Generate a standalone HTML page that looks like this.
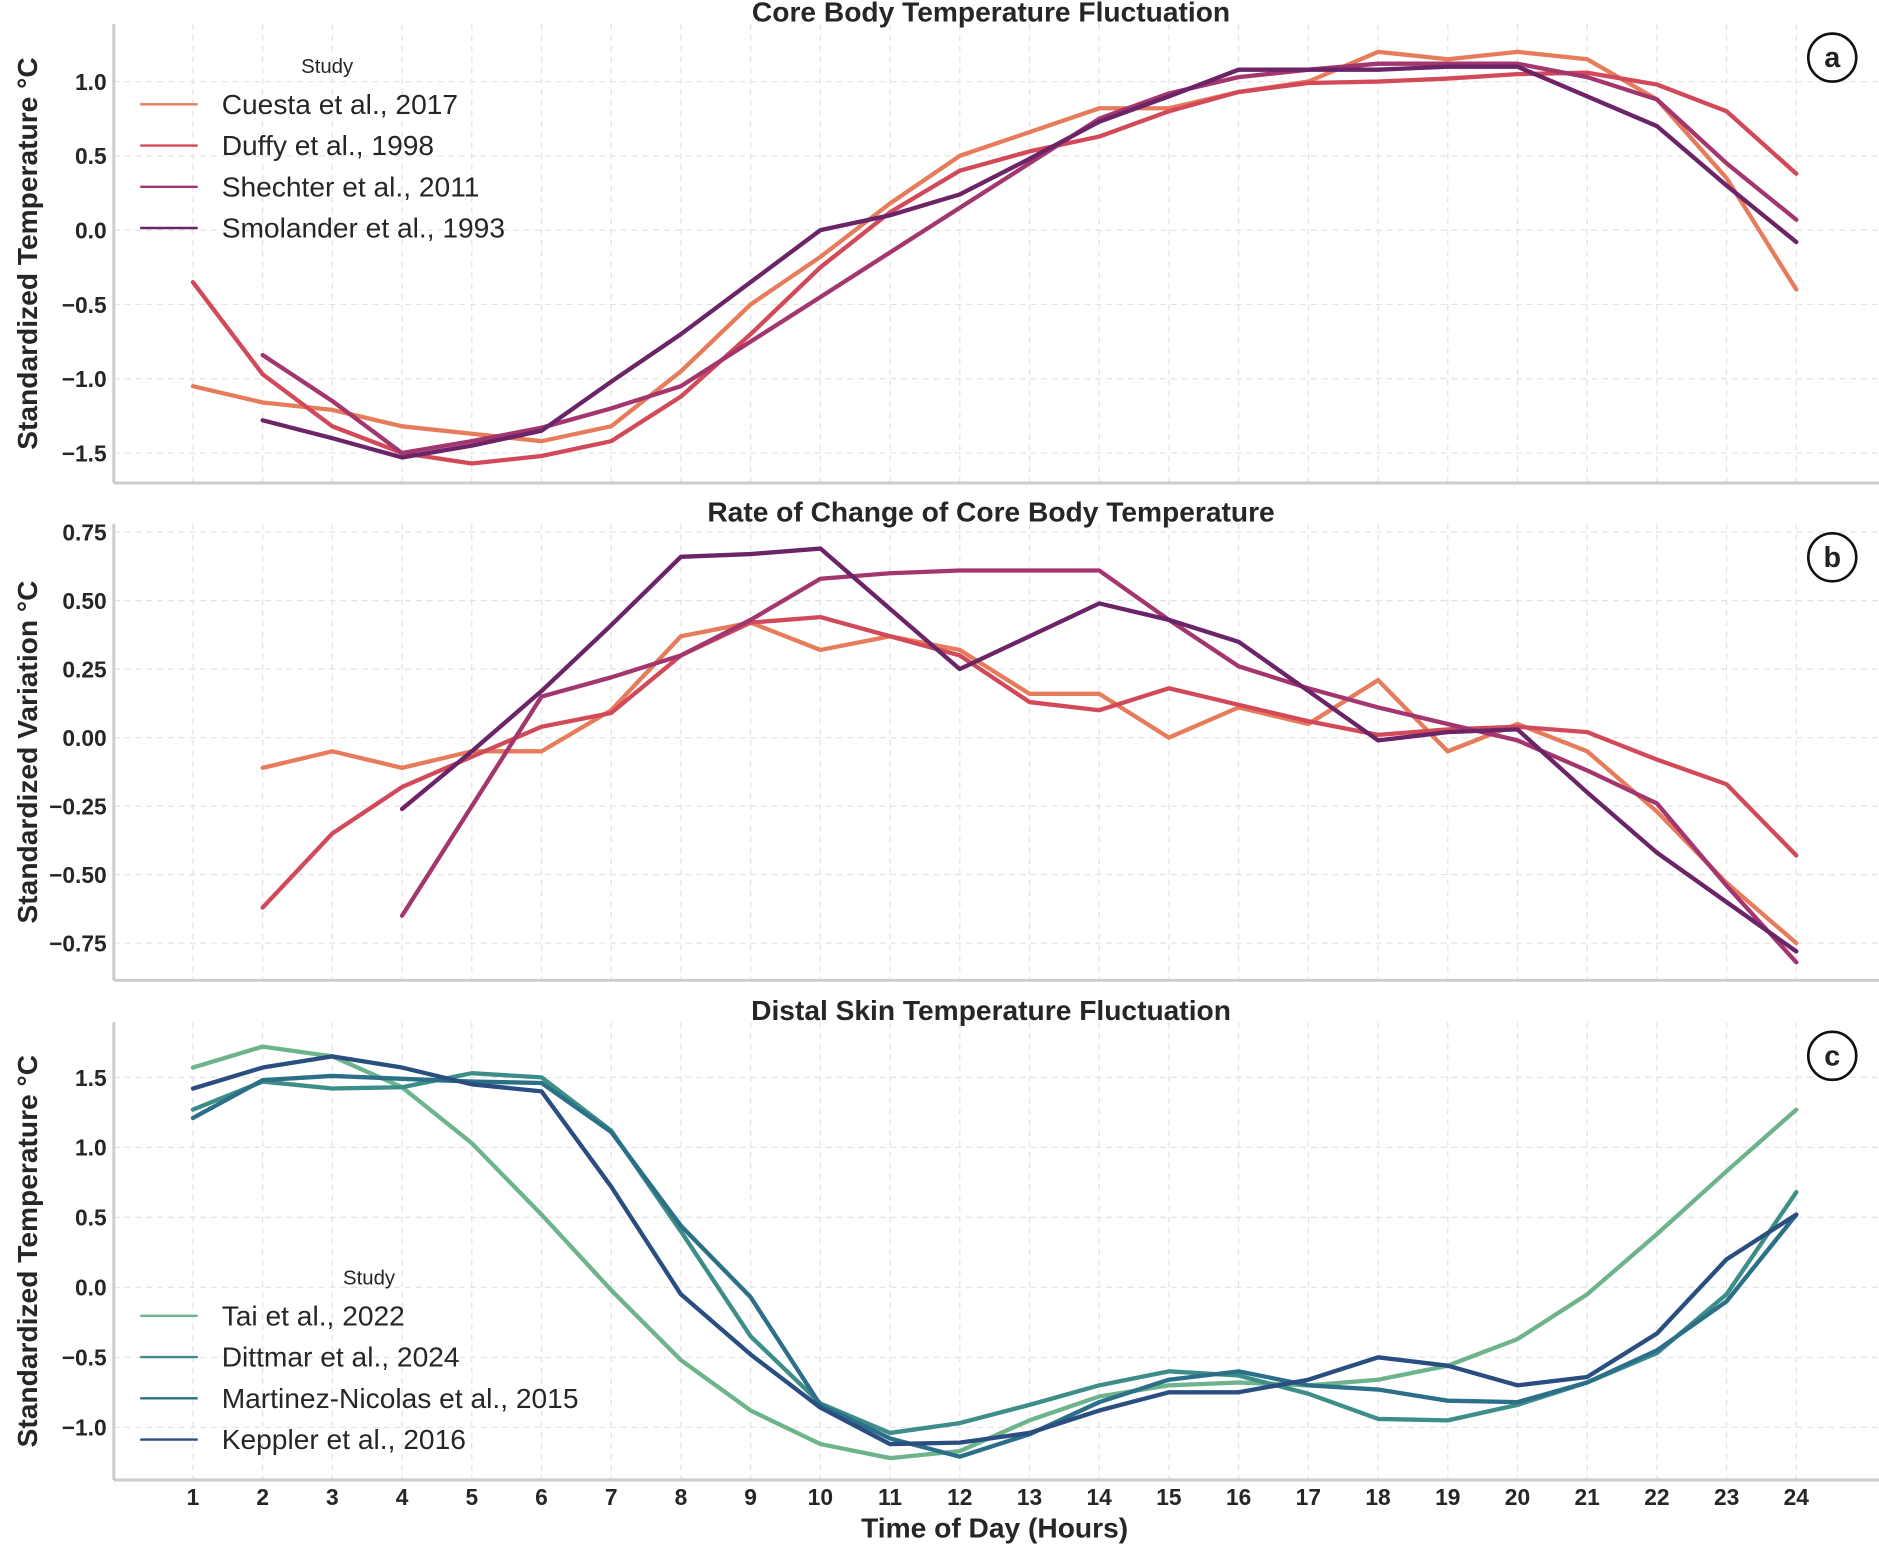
<!DOCTYPE html>
<html><head><meta charset="utf-8"><style>
html,body{margin:0;padding:0;background:#fff;}
svg{display:block;font-family:"Liberation Sans",sans-serif;}
.tick{font-size:19px;font-weight:bold;fill:#262626;}
.ttl{font-size:23.5px;font-weight:bold;fill:#262626;}
.leg{font-size:23.5px;fill:#262626;}
</style></head><body>
<svg id="chart" width="1879" height="1546" viewBox="0 0 1568 1290" xmlns="http://www.w3.org/2000/svg"></svg>
<script>
const hours=[1,2,3,4,5,6,7,8,9,10,11,12,13,14,15,16,17,18,19,20,21,22,23,24];
const N=null;
const aCuesta=[-1.05,-1.16,-1.21,-1.32,-1.37,-1.42,-1.32,-0.95,-0.5,-0.18,0.18,0.5,0.66,0.82,0.82,0.93,1.0,1.2,1.15,1.2,1.15,0.88,0.35,-0.4];
const aDuffy=[-0.35,-0.97,-1.32,-1.5,-1.57,-1.52,-1.42,-1.12,-0.7,-0.25,0.12,0.4,0.53,0.63,0.8,0.93,0.99,1.0,1.02,1.05,1.06,0.98,0.8,0.38];
const aShechter=[N,-0.84,-1.15,-1.5,-1.42,-1.33,-1.2,-1.05,-0.75,-0.45,-0.15,0.15,0.45,0.75,0.92,1.03,1.08,1.12,1.12,1.12,1.03,0.88,0.45,0.07];
const aSmolander=[N,-1.28,-1.4,-1.53,-1.45,-1.35,-1.02,-0.7,-0.35,0.0,0.1,0.24,0.48,0.73,0.9,1.08,1.08,1.08,1.1,1.1,0.9,0.7,0.3,-0.08];
const bCuesta=[N,-0.11,-0.05,-0.11,-0.05,-0.05,0.1,0.37,0.42,0.32,0.37,0.32,0.16,0.16,0.0,0.11,0.05,0.21,-0.05,0.05,-0.05,-0.27,-0.53,-0.75];
const bDuffy=[N,-0.62,-0.35,-0.18,-0.07,0.04,0.09,0.3,0.42,0.44,0.37,0.3,0.13,0.1,0.18,0.12,0.06,0.01,0.03,0.04,0.02,-0.08,-0.17,-0.43];
const bShechter=[N,N,N,-0.65,-0.25,0.15,0.22,0.3,0.43,0.58,0.6,0.61,0.61,0.61,0.43,0.26,0.18,0.11,0.05,-0.01,-0.12,-0.24,-0.54,-0.82];
const bSmolander=[N,N,N,-0.26,-0.05,0.17,0.41,0.66,0.67,0.69,0.47,0.25,0.37,0.49,0.43,0.35,0.17,-0.01,0.02,0.03,-0.2,-0.42,-0.6,-0.78];
const cTai=[1.57,1.72,1.65,1.43,1.03,0.52,-0.02,-0.52,-0.88,-1.12,-1.22,-1.17,-0.95,-0.78,-0.7,-0.68,-0.7,-0.66,-0.56,-0.37,-0.05,0.38,0.83,1.27];
const cDittmar=[1.27,1.47,1.42,1.43,1.53,1.5,1.12,0.4,-0.35,-0.83,-1.04,-0.97,-0.84,-0.7,-0.6,-0.63,-0.76,-0.94,-0.95,-0.84,-0.68,-0.47,-0.05,0.68];
const cMartinez=[1.21,1.48,1.51,1.49,1.47,1.46,1.11,0.44,-0.07,-0.84,-1.08,-1.21,-1.05,-0.82,-0.66,-0.6,-0.7,-0.73,-0.81,-0.82,-0.68,-0.45,-0.1,0.52];
const cKeppler=[1.42,1.57,1.65,1.57,1.45,1.4,0.72,-0.05,-0.48,-0.86,-1.12,-1.11,-1.04,-0.88,-0.75,-0.75,-0.66,-0.5,-0.56,-0.7,-0.64,-0.33,0.2,0.52];
const aTicks=[-1.5,-1.0,-0.5,0.0,0.5,1.0];
const bTicks=[-0.75,-0.5,-0.25,0,0.25,0.5,0.75];
const cTicks=[-1.0,-0.5,0.0,0.5,1.0,1.5];

const svg=document.getElementById('chart');
const NS='http://www.w3.org/2000/svg';
function mk(tag,attrs,parent){const e=document.createElementNS(NS,tag);for(const k in attrs)e.setAttribute(k,attrs[k]);(parent||svg).appendChild(e);return e;}
const X0=95,X1=1568;
function xs(h){return 161+(h-1)*(1499-161)/23;}
function fmt(v,d){return (v<0?'\u2212':'')+Math.abs(v).toFixed(d);}

function panel(cfg){
  const g=mk('g',{});
  
  
  const ys=v=>cfg.y0+(v-cfg.v0)*(cfg.y1-cfg.y0)/(cfg.v1-cfg.v0);
  hours.forEach(h=>{const l=mk('line',{x1:xs(h),x2:xs(h),y1:cfg.top,y2:cfg.bottom,stroke:'#e3e3e3','stroke-width':1,'stroke-dasharray':'5,4'},g);
    });
  cfg.ticks.forEach(v=>{const l=mk('line',{x1:X0,x2:X1,y1:ys(v),y2:ys(v),stroke:'#e3e3e3','stroke-width':1,'stroke-dasharray':'5,4'},g);
    
    const t=mk('text',{x:X0-6,y:ys(v)+7,'text-anchor':'end',class:'tick'},g);t.textContent=fmt(v,cfg.dec);
    });
  const s1=mk('line',{x1:X0,x2:X0,y1:cfg.top,y2:cfg.bottom,stroke:'#cccccc','stroke-width':2.5},g);
  
  const s2=mk('line',{x1:X0,x2:X1,y1:cfg.bottom,y2:cfg.bottom,stroke:'#cccccc','stroke-width':2.5},g);
  
  const tt=mk('text',{x:827,y:cfg.top-2,'text-anchor':'middle',class:'ttl'},g);tt.textContent=cfg.title;
  
  const yl=mk('text',{x:0,y:0,'text-anchor':'middle',class:'ttl',transform:`translate(31,${(cfg.top+cfg.bottom)/2}) rotate(-90)`},g);yl.textContent=cfg.ylabel;
  
  cfg.series.forEach(s=>{
    let d='';let pen=false;
    s.vals.forEach((v,i)=>{if(v===null){pen=false;return;}d+=(pen?'L':'M')+xs(hours[i]).toFixed(1)+','+ys(v).toFixed(1);pen=true;});
    const p=mk('path',{d:d,fill:'none',stroke:s.color,'stroke-width':3.6,'stroke-linejoin':'round','stroke-linecap':'round'},g);
    
  });
  const c=mk('circle',{cx:1529,cy:cfg.top+28,r:20,fill:'#fff',stroke:'#111','stroke-width':2.2},g);
  
  const ct=mk('text',{x:1529,y:cfg.top+36,'text-anchor':'middle',style:'font-size:24px;font-weight:bold;fill:#222'},g);ct.textContent=cfg.letter;
  
  if(cfg.legendY){
    const lg=mk('g',{},g);
    const st=mk('text',{x:cfg.legendTitleX,y:cfg.legendY,'text-anchor':'middle',style:'font-size:17px;fill:#262626'},lg);st.textContent='Study';
    
    cfg.series.forEach((s,i)=>{const yy=cfg.legendY+26+i*34.4;
      const l=mk('line',{x1:117,x2:165,y1:yy,y2:yy,stroke:s.color,'stroke-width':2},lg);
      
      const t=mk('text',{x:185,y:yy+8,class:'leg'},lg);t.textContent=s.label;
      });
  }
  return g;
}
const red={c1:'#e67c5b',c2:'#d24a5a',c3:'#a3366f',c4:'#6a2467'};
panel({name:'panel-a',top:20,bottom:403,v0:1.0,v1:-1.5,y0:68,y1:378,ticks:aTicks,dec:1,title:'Core Body Temperature Fluctuation',ylabel:'Standardized Temperature °C',letter:'a',legendY:61,legendTitleX:273,
 series:[{id:'cuesta-line',label:'Cuesta et al., 2017',vals:aCuesta,color:red.c1},{id:'duffy-line',label:'Duffy et al., 1998',vals:aDuffy,color:red.c2},{id:'shechter-line',label:'Shechter et al., 2011',vals:aShechter,color:red.c3},{id:'smolander-line',label:'Smolander et al., 1993',vals:aSmolander,color:red.c4}]});
panel({name:'panel-b',top:437,bottom:818,v0:0.75,v1:-0.75,y0:444,y1:787,ticks:bTicks,dec:2,title:'Rate of Change of Core Body Temperature',ylabel:'Standardized Variation °C',letter:'b',
 series:[{id:'cuesta-rate',vals:bCuesta,color:red.c1},{id:'duffy-rate',vals:bDuffy,color:red.c2},{id:'shechter-rate',vals:bShechter,color:red.c3},{id:'smolander-rate',vals:bSmolander,color:red.c4}]});
panel({name:'panel-c',top:853,bottom:1235,v0:1.5,v1:-1.0,y0:899,y1:1191,ticks:cTicks,dec:1,title:'Distal Skin Temperature Fluctuation',ylabel:'Standardized Temperature °C',letter:'c',legendY:1072,legendTitleX:308,
 series:[{id:'tai-line',label:'Tai et al., 2022',vals:cTai,color:'#6db48c'},{id:'dittmar-line',label:' Dittmar et al., 2024',vals:cDittmar,color:'#3d8d88'},{id:'martinez-line',label:' Martinez-Nicolas et al., 2015',vals:cMartinez,color:'#2b6f88'},{id:'keppler-line',label:'Keppler et al., 2016',vals:cKeppler,color:'#2a4e80'}]});
hours.forEach(h=>{const t=mk('text',{x:xs(h),y:1256,'text-anchor':'middle',class:'tick'});t.textContent=h;
  });
const xl=mk('text',{x:830,y:1283,'text-anchor':'middle',class:'ttl'});xl.textContent='Time of Day (Hours)';

</script>
</body></html>
